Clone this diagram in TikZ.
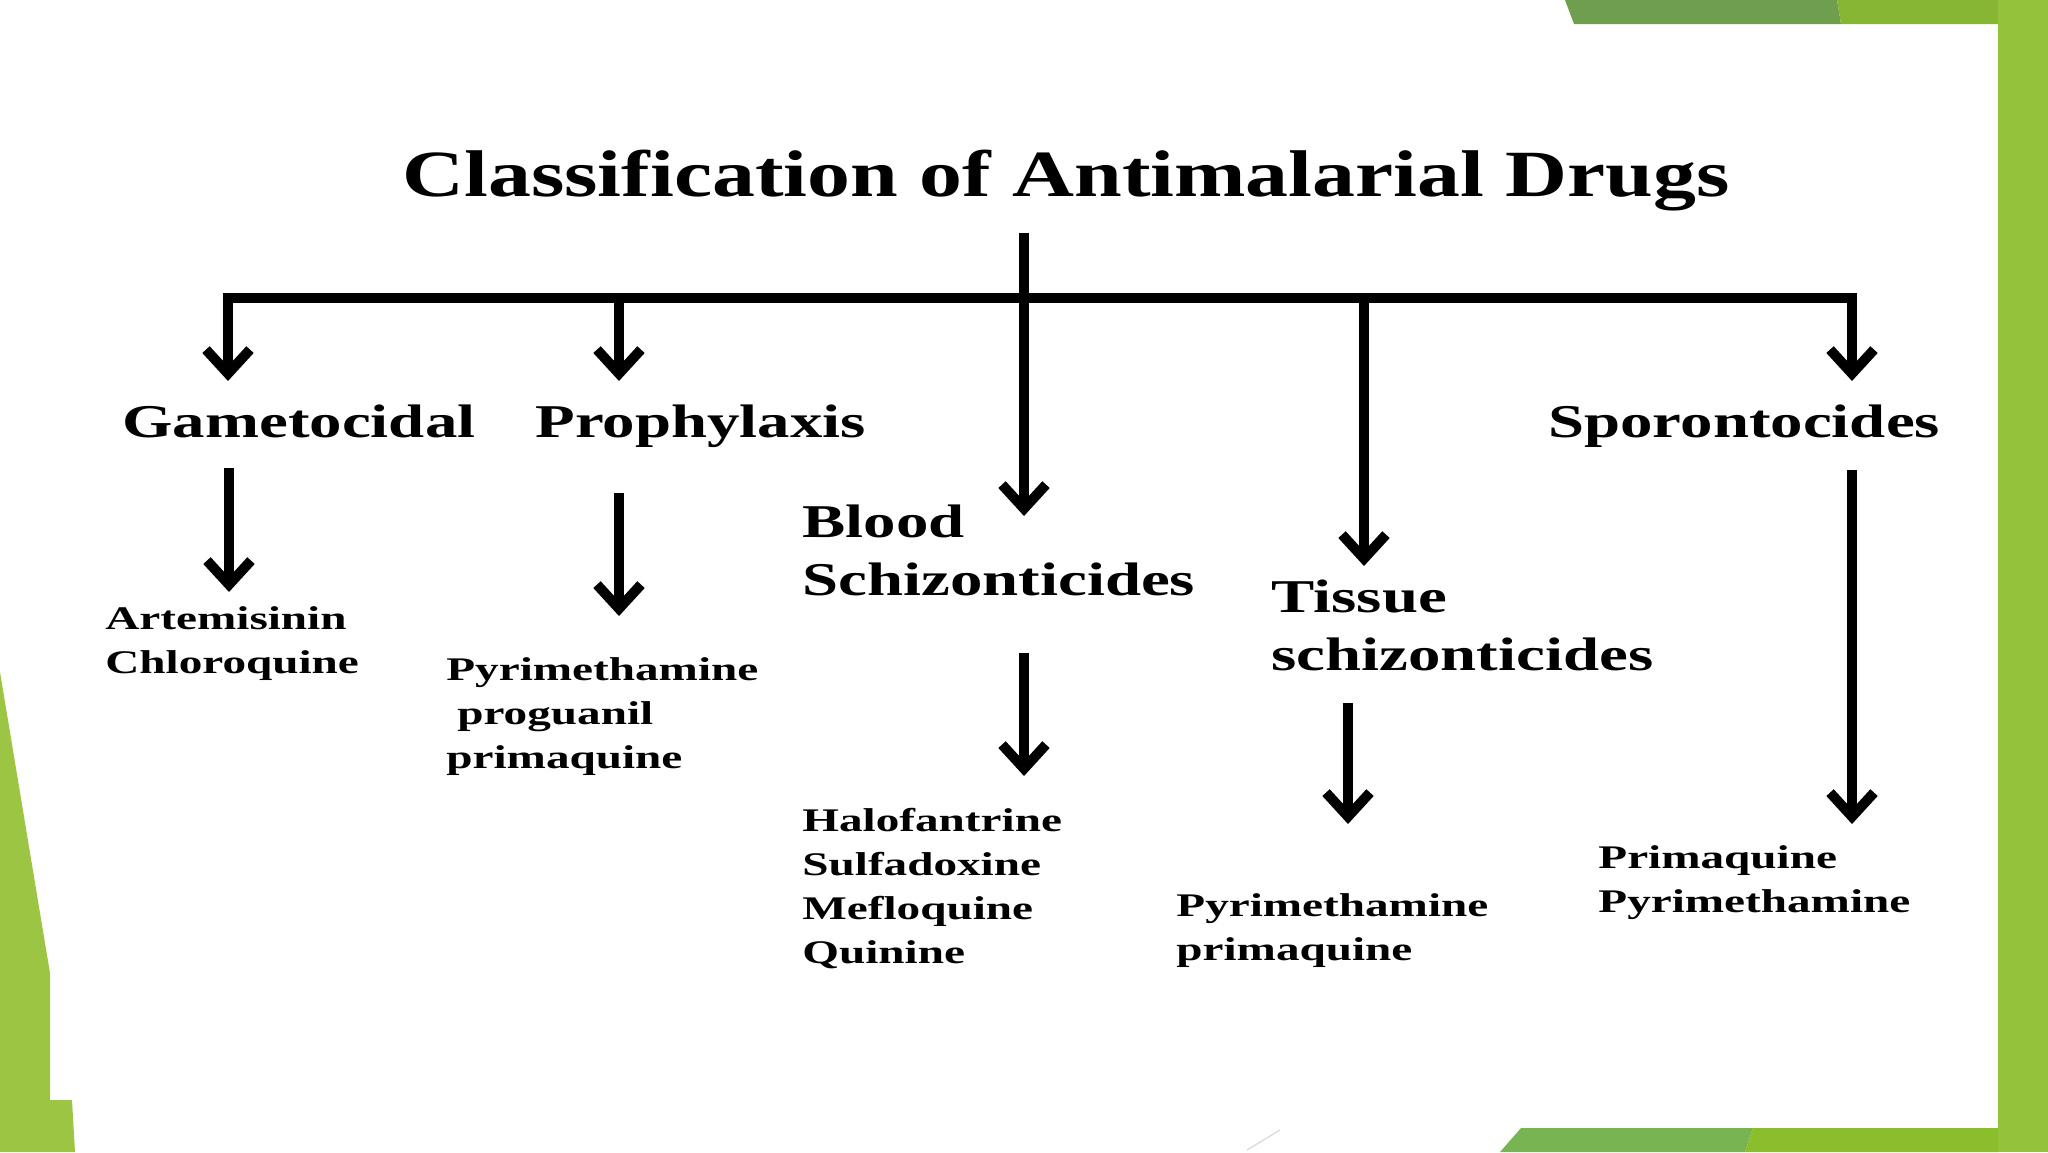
\documentclass[tikz,border=0pt]{standalone}
\usepackage{fontspec}
\usetikzlibrary{arrows.meta}
\newfontfamily\titlefont[FakeStretch=1.30]{Liberation Serif Bold}
\newfontfamily\labelfont[FakeStretch=1.38]{Liberation Serif Bold}
\newfontfamily\leaffont[FakeStretch=1.43]{Liberation Serif Bold}
\definecolor{gDark}{HTML}{6E9E4E}
\definecolor{gLight}{HTML}{86B634}
\definecolor{gSide}{HTML}{95C23B}
\definecolor{gBotA}{HTML}{78B451}
\definecolor{gBotB}{HTML}{8BBE2D}
\definecolor{gLeft}{HTML}{9CC544}
\tikzset{
  ttl/.style={anchor=base west, inner sep=0pt, font=\titlefont\fontsize{33pt}{36pt}\selectfont},
  lbl/.style={anchor=base west, inner sep=0pt, align=left, font=\labelfont\fontsize{23.5pt}{29pt}\selectfont},
  leaf/.style={anchor=base west, inner sep=0pt, align=left, font=\leaffont\fontsize{16.5pt}{22pt}\selectfont},
  conn/.style={line width=5pt, black},
  arr/.style={conn, -{Straight Barb[length=12pt,width=22pt]}},
}
\begin{document}
\begin{tikzpicture}[x=0.5pt, y=-0.5pt]
\useasboundingbox (0,0) rectangle (2048,1152);
\fill[white] (0,0) rectangle (2048,1152);
% green frame decorations
\fill[gDark] (1565,0) -- (1837,0) -- (1841,24) -- (1574,24) -- cycle;
\fill[gLight] (1837,0) -- (2048,0) -- (2048,24) -- (1841,24) -- cycle;
\fill[gSide] (1998,0) rectangle (2048,1152);
\fill[gBotA] (1521,1128) -- (1753,1128) -- (1745,1152) -- (1500,1152) -- cycle;
\fill[gBotB] (1753,1128) -- (1998,1128) -- (1998,1152) -- (1745,1152) -- cycle;
\fill[gLeft] (0,672) -- (50,973) -- (50,1100) -- (72,1100) -- (75,1152) -- (0,1152) -- cycle;
\draw[black!15, line width=0.6pt] (1280,1130) -- (1247,1150);

% texts (base anchor of a multi-line node = baseline of its last line)
\node[ttl] (title) at (402,196) {Classification of Antimalarial Drugs};
\node[lbl] (gam) at (122,437) {Gametocidal};
\node[lbl] (pro) at (535,437) {Prophylaxis};
\node[lbl] (spo) at (1548,437) {Sporontocides};
\node[lbl] (blo) at (802,595) {Blood\\Schizonticides};
\node[lbl] (tis) at (1271,670) {Tissue\\schizonticides};
\node[leaf] (l1) at (105,673) {Artemisinin\\Chloroquine};
\node[leaf] (l2) at (446,768) {Pyrimethamine\\\hspace*{5.5pt}proguanil\\primaquine};
\node[leaf] (l3) at (802,963) {Halofantrine\\Sulfadoxine\\Mefloquine\\Quinine};
\node[leaf] (l4) at (1176,960) {Pyrimethamine\\primaquine};
\node[leaf] (l5) at (1598,912) {Primaquine\\Pyrimethamine};

% coordinates
\coordinate (stemtop) at (1024,233);
\coordinate (b1) at (228,298);
\coordinate (b2) at (619,298);
\coordinate (b3) at (1024,298);
\coordinate (b4) at (1364,298);
\coordinate (b5) at (1852,298);
\coordinate (t1) at (228,381);
\coordinate (t2) at (619,381);
\coordinate (t3) at (1024,516);
\coordinate (t4) at (1364,566);
\coordinate (t5) at (1852,381);
\coordinate (s1) at (229,468);
\coordinate (e1) at (229,592);
\coordinate (s2) at (619,493);
\coordinate (e2) at (619,616);
\coordinate (s3) at (1024,653);
\coordinate (e3) at (1024,776);
\coordinate (s4) at (1348,703);
\coordinate (e4) at (1348,824);
\coordinate (s5) at (1852,470);
\coordinate (e5) at (1852,824);

% connectors
\draw[conn] (stemtop) -- (b3);
\draw[conn, line cap=rect] (b1) -- (b5);
\draw[arr] (b1) -- (t1);
\draw[arr] (b2) -- (t2);
\draw[arr] (b3) -- (t3);
\draw[arr] (b4) -- (t4);
\draw[arr] (b5) -- (t5);
\draw[arr] (s1) -- (e1);
\draw[arr] (s2) -- (e2);
\draw[arr] (s3) -- (e3);
\draw[arr] (s4) -- (e4);
\draw[arr] (s5) -- (e5);
\end{tikzpicture}
\end{document}
